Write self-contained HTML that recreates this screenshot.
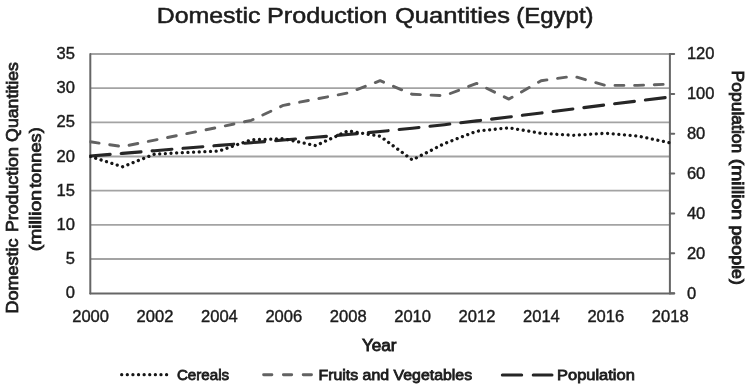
<!DOCTYPE html>
<html><head><meta charset="utf-8"><title>Domestic Production Quantities (Egypt)</title>
<style>
html,body{margin:0;padding:0;background:#fff;overflow:hidden;}
svg{display:block;font-family:"Liberation Sans",sans-serif;}
</style></head><body>
<svg width="749" height="388" viewBox="0 0 749 388">
<rect width="749" height="388" fill="#fff"/>
<g font-size="22.8" fill="#1c1c1c" stroke="#1c1c1c" stroke-width="0.55"><text x="156.7" y="22.5" textLength="103.8" lengthAdjust="spacingAndGlyphs">Domestic</text>
<text x="267.0" y="22.5" textLength="120.3" lengthAdjust="spacingAndGlyphs">Production</text>
<text x="395.0" y="22.5" textLength="115.0" lengthAdjust="spacingAndGlyphs">Quantities</text>
<text x="516.2" y="22.5" textLength="77.4" lengthAdjust="spacingAndGlyphs">(Egypt)</text></g>
<g stroke="#a3a3a3" stroke-width="1.8"><line x1="90.3" x2="669.9" y1="259.0" y2="259.0"/><line x1="90.3" x2="669.9" y1="224.9" y2="224.9"/><line x1="90.3" x2="669.9" y1="190.7" y2="190.7"/><line x1="90.3" x2="669.9" y1="156.5" y2="156.5"/><line x1="90.3" x2="669.9" y1="122.3" y2="122.3"/><line x1="90.3" x2="669.9" y1="88.2" y2="88.2"/><line x1="90.3" x2="669.9" y1="54.0" y2="54.0"/></g>
<g stroke="#666" stroke-width="2" fill="none" stroke-linejoin="round" stroke-linecap="round">
<line x1="90.3" x2="90.3" y1="54.0" y2="293.55"/>
<line x1="90.3" x2="674.20" y1="293.55" y2="293.55"/>
<line x1="669.9" x2="669.9" y1="54.0" y2="293.55"/>
<line x1="669.9" x2="674.20" y1="293.2" y2="293.2"/><line x1="669.9" x2="674.20" y1="253.3" y2="253.3"/><line x1="669.9" x2="674.20" y1="213.5" y2="213.5"/><line x1="669.9" x2="674.20" y1="173.6" y2="173.6"/><line x1="669.9" x2="674.20" y1="133.7" y2="133.7"/><line x1="669.9" x2="674.20" y1="93.9" y2="93.9"/><line x1="669.9" x2="674.20" y1="54.0" y2="54.0"/>
</g>
<clipPath id="pc"><rect x="89.40" y="40" width="581.4" height="260"/></clipPath>
<g fill="none" stroke-linecap="round" stroke-linejoin="round" clip-path="url(#pc)">
<polyline points="90.3,141.8 122.5,146.6 154.7,140.1 186.9,133.6 219.1,127.1 251.3,120.3 283.5,105.3 315.7,99.1 347.9,93.0 380.1,80.7 412.3,94.3 444.5,95.7 476.7,83.4 508.9,99.1 541.1,80.7 573.3,76.2 605.5,85.4 637.7,85.4 669.9,84.1" stroke="#626262" stroke-width="2.9" stroke-dasharray="8.9 10.73"/>
<polyline points="90.3,156.0 122.5,153.4 154.7,150.7 186.9,148.0 219.1,145.4 251.3,142.7 283.5,140.0 315.7,137.3 347.9,134.5 380.1,131.5 412.3,128.2 444.5,124.7 476.7,120.9 508.9,117.0 541.1,113.0 573.3,108.9 605.5,104.9 637.7,101.0 669.9,97.0" stroke="#262626" stroke-width="3.1" stroke-dasharray="19.9 11.1"/>
<polyline points="90.3,156.5 122.5,166.8 154.7,154.1 186.9,152.4 219.1,151.0 251.3,139.8 283.5,138.7 315.7,145.6 347.9,130.9 380.1,136.2 412.3,159.9 444.5,143.5 476.7,131.2 508.9,127.8 541.1,133.3 573.3,135.3 605.5,133.3 637.7,136.0 669.9,142.8" stroke="#161616" stroke-width="3.3" stroke-dasharray="0.01 5.64"/>
</g>
<g font-size="16" fill="#1c1c1c" stroke="#1c1c1c" stroke-width="0.4"><text x="65.7" y="298.3" textLength="9.2" lengthAdjust="spacingAndGlyphs">0</text>
<text x="65.7" y="264.1" textLength="9.2" lengthAdjust="spacingAndGlyphs">5</text>
<text x="56.5" y="230.0" textLength="18.4" lengthAdjust="spacingAndGlyphs">10</text>
<text x="56.5" y="195.8" textLength="18.4" lengthAdjust="spacingAndGlyphs">15</text>
<text x="56.5" y="161.6" textLength="18.4" lengthAdjust="spacingAndGlyphs">20</text>
<text x="56.5" y="127.4" textLength="18.4" lengthAdjust="spacingAndGlyphs">25</text>
<text x="56.5" y="93.3" textLength="18.4" lengthAdjust="spacingAndGlyphs">30</text>
<text x="56.5" y="59.1" textLength="18.4" lengthAdjust="spacingAndGlyphs">35</text>
<text x="686.9" y="298.5" textLength="9.2" lengthAdjust="spacingAndGlyphs">0</text>
<text x="686.9" y="258.6" textLength="18.4" lengthAdjust="spacingAndGlyphs">20</text>
<text x="686.9" y="218.8" textLength="18.4" lengthAdjust="spacingAndGlyphs">40</text>
<text x="686.9" y="178.9" textLength="18.4" lengthAdjust="spacingAndGlyphs">60</text>
<text x="686.9" y="139.0" textLength="18.4" lengthAdjust="spacingAndGlyphs">80</text>
<text x="686.9" y="99.2" textLength="27.6" lengthAdjust="spacingAndGlyphs">100</text>
<text x="686.9" y="59.3" textLength="27.6" lengthAdjust="spacingAndGlyphs">120</text>
<text x="72.2" y="322.2" textLength="36.8" lengthAdjust="spacingAndGlyphs">2000</text>
<text x="136.6" y="322.2" textLength="36.8" lengthAdjust="spacingAndGlyphs">2002</text>
<text x="201.0" y="322.2" textLength="36.8" lengthAdjust="spacingAndGlyphs">2004</text>
<text x="265.4" y="322.2" textLength="36.8" lengthAdjust="spacingAndGlyphs">2006</text>
<text x="329.8" y="322.2" textLength="36.8" lengthAdjust="spacingAndGlyphs">2008</text>
<text x="394.2" y="322.2" textLength="36.8" lengthAdjust="spacingAndGlyphs">2010</text>
<text x="458.6" y="322.2" textLength="36.8" lengthAdjust="spacingAndGlyphs">2012</text>
<text x="523.0" y="322.2" textLength="36.8" lengthAdjust="spacingAndGlyphs">2014</text>
<text x="587.4" y="322.2" textLength="36.8" lengthAdjust="spacingAndGlyphs">2016</text>
<text x="651.8" y="322.2" textLength="36.8" lengthAdjust="spacingAndGlyphs">2018</text></g>
<g font-size="16.7" fill="#1c1c1c" stroke="#1c1c1c" stroke-width="0.75">
<text transform="translate(17.8,313.4) rotate(-90)" textLength="74.8" lengthAdjust="spacingAndGlyphs">Domestic</text>
<text transform="translate(17.8,232.1) rotate(-90)" textLength="85.0" lengthAdjust="spacingAndGlyphs">Production</text>
<text transform="translate(17.8,141.9) rotate(-90)" textLength="79.8" lengthAdjust="spacingAndGlyphs">Quantities</text>
<text transform="translate(41.2,251.3) rotate(-90)" textLength="61.3" lengthAdjust="spacingAndGlyphs">(million</text>
<text transform="translate(41.2,188.0) rotate(-90)" textLength="60.7" lengthAdjust="spacingAndGlyphs">tonnes)</text>
<g stroke-width="0.85" font-size="15.8"><text transform="translate(732.1,70.6) rotate(90)" textLength="82.7" lengthAdjust="spacingAndGlyphs">Population</text>
<text transform="translate(732.1,158.8) rotate(90)" textLength="61.3" lengthAdjust="spacingAndGlyphs">(million</text>
<text transform="translate(732.1,225.4) rotate(90)" textLength="59.6" lengthAdjust="spacingAndGlyphs">people)</text></g>
<g stroke-width="0.8"><text x="361.9" y="350.9" font-size="15.8" textLength="34.6" lengthAdjust="spacingAndGlyphs">Year</text>
<g font-size="14.9" stroke-width="0.8"><text x="176.9" y="380.25" textLength="52.2" lengthAdjust="spacingAndGlyphs">Cereals</text>
<text x="318.5" y="380.25" textLength="153.6" lengthAdjust="spacingAndGlyphs">Fruits and Vegetables</text>
<text x="557" y="380.25" textLength="77.8" lengthAdjust="spacingAndGlyphs">Population</text></g></g>
</g>
<g fill="none" stroke-linecap="round">
<line x1="121.7" x2="168" y1="374.7" y2="374.7" stroke="#161616" stroke-width="3.3" stroke-dasharray="0.01 5.6"/>
<line x1="263.6" x2="312" y1="374.8" y2="374.8" stroke="#626262" stroke-width="2.9" stroke-dasharray="8.3 11.5"/>
<line x1="502.3" x2="552" y1="374.95" y2="374.95" stroke="#262626" stroke-width="3.0" stroke-dasharray="19.4 11.5"/>
</g>
</svg>
</body></html>
